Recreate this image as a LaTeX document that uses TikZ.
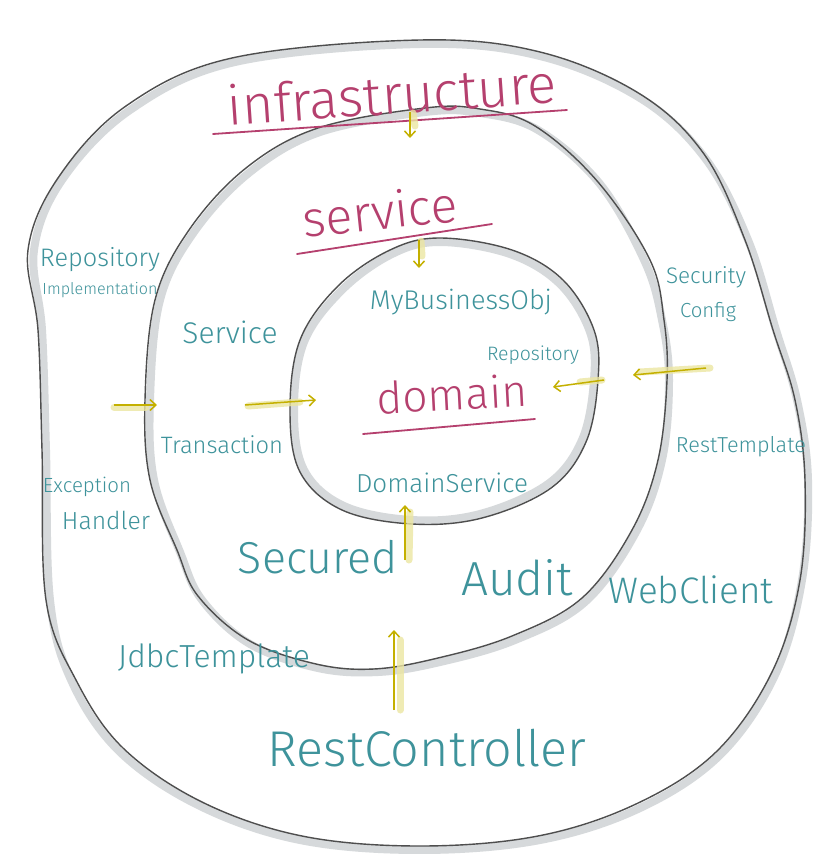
\documentclass[tikz,border=0pt]{standalone}
\usepackage{fontspec}
\newfontfamily\hand{Fira Sans Light}
\usetikzlibrary{arrows.meta}
\definecolor{penteal}{HTML}{3E939B}
\definecolor{penmag}{HTML}{B5406E}
\definecolor{halo}{HTML}{D6D9DB}
\definecolor{ink}{HTML}{4E4E4E}
\definecolor{arrowink}{HTML}{C4B000}
\definecolor{arrowhl}{HTML}{ECE6A2}
\newcommand{\hw}[2]{\resizebox{#1pt}{!}{\hand #2}}
\begin{document}
\begin{tikzpicture}[x=1pt,y=-1pt,
  haloline/.style={draw=halo,line width=8pt,line cap=round,line join=round},
  inkline/.style={draw=ink,line width=1.4pt,line join=round},
  lbl/.style={inner sep=0pt,text=penteal},
  ttl/.style={inner sep=0pt,text=penmag},
  uline/.style={draw=penmag,line width=1.8pt,line cap=round},
  hl/.style={draw=arrowhl,line width=7pt,line cap=round,opacity=0.8},
  arr/.style={draw=arrowink,line width=1.5pt,-{Straight Barb[length=6pt,width=11pt]}}]
\useasboundingbox (0,0) rectangle (818,854);
\fill[white] (0,0) rectangle (818,854);

% outer loop
\draw[haloline] plot[smooth cycle,tension=0.6] coordinates {
 (420,44) (540,56) (640,98) (705,158) (748,240) (776,330) (797,400) (808,480)
 (802,580) (775,675) (720,755) (640,808) (540,840) (420,850) (300,840) (200,806)
 (120,752) (72,682) (50,600) (46,450) (42,330) (34,250) (62,180) (130,110) (235,62)};
\draw[inkline] plot[smooth cycle,tension=0.6] coordinates {
 (420,40) (540,52) (640,94) (704,154) (745,240) (773,330) (795,400) (805,480)
 (800,580) (772,672) (716,752) (636,804) (538,836) (420,846) (302,836) (202,802)
 (123,748) (76,680) (46,600) (42,450) (38,330) (28,250) (58,178) (126,106) (232,58)};

% middle loop
\draw[haloline] plot[smooth cycle,tension=0.6] coordinates {
 (425,112) (480,113) (538,130) (600,184) (645,262) (662,320) (669,380) (662,460)
 (636,532) (585,602) (515,640) (440,662) (378,672) (318,668) (250,644) (202,600)
 (180,552) (154,480) (150,400) (160,300) (194,232) (250,172) (320,132)};
\draw[inkline] plot[smooth cycle,tension=0.6] coordinates {
 (425,108) (480,109) (535,126) (598,182) (650,260) (664,320) (667,380) (658,460)
 (632,530) (582,598) (512,636) (438,658) (374,669) (316,664) (248,640) (198,596)
 (177,550) (150,480) (145,400) (155,300) (189,230) (246,168) (318,128)};

% inner loop
\draw[haloline] plot[smooth cycle,tension=0.6] coordinates {
 (440,242) (510,254) (560,284) (590,332) (594,380) (582,440) (548,484) (480,514)
 (412,520) (344,506) (304,470) (294,410) (304,342) (342,290) (392,254)};
\draw[inkline] plot[smooth cycle,tension=0.6] coordinates {
 (440,238) (512,250) (563,280) (594,330) (598,380) (586,442) (551,488) (482,518)
 (412,524) (342,510) (300,472) (290,410) (300,340) (338,286) (390,250)};

% titles
\node[ttl,rotate=4] (infra) at (392,94) {\hw{330}{infrastructure}};
\draw[uline] (213,134) -- (567,110);
\node[ttl,rotate=6] (service) at (380,211) {\hw{155}{service}};
\draw[uline] (297,254) -- (492,224);
\node[ttl,rotate=3] (domain) at (452,394) {\hw{150}{domain}};
\draw[uline] (363,434) -- (535,419);

% labels
\node[lbl] (repoimpl) at (100,260) {\hw{120}{Repository}};
\node[lbl] (impl) at (100,290) {\hw{115}{Implementation}};
\node[lbl] (svc) at (230,332) {\hw{95}{Service}};
\node[lbl] (tx) at (222,445) {\hw{122}{Transaction}};
\node[lbl] (exc) at (87,487) {\hw{88}{Exception}};
\node[lbl] (hand) at (106,520) {\hw{88}{Handler}};
\node[lbl] (sec) at (318,557) {\hw{160}{Secured}};
\node[lbl] (jdbc) at (214,659) {\hw{192}{JdbcTemplate}};
\node[lbl] (rc) at (427,748) {\hw{318}{RestController}};
\node[lbl] (audit) at (517,578) {\hw{112}{Audit}};
\node[lbl] (web) at (691,590) {\hw{165}{WebClient}};
\node[lbl] (rt) at (741,447) {\hw{130}{RestTemplate}};
\node[lbl] (secu) at (706,277) {\hw{80}{Security}};
\node[lbl] (conf) at (708,312) {\hw{56}{Config}};
\node[lbl] (mbo) at (461,302) {\hw{182}{MyBusinessObj}};
\node[lbl] (repo) at (533,355) {\hw{92}{Repository}};
\node[lbl] (dsvc) at (442,483) {\hw{172}{DomainService}};

% arrows
\coordinate (a1s) at (410,112); \coordinate (a1e) at (410,138);
\coordinate (a2s) at (419,240); \coordinate (a2e) at (419,268);
\coordinate (a3s) at (114,405); \coordinate (a3e) at (157,405);
\coordinate (a4s) at (245,405); \coordinate (a4e) at (316,400);
\coordinate (a5s) at (706,368); \coordinate (a5e) at (633,375);
\coordinate (a6s) at (604,380); \coordinate (a6e) at (553,387);
\coordinate (a7s) at (394,710); \coordinate (a7e) at (394,630);
\coordinate (a8s) at (405,560); \coordinate (a8e) at (405,505);

\draw[hl] (413,113) -- (415,126);
\draw[hl] (421,241) -- (422,256);
\draw[hl] (114,407) -- (146,407);
\draw[hl] (248,406) -- (300,402);
\draw[hl] (710,368) -- (640,372);
\draw[hl] (602,380) -- (580,382);
\draw[hl] (400,710) -- (400,640);
\draw[hl] (409,560) -- (410,512);

\draw[arr] (a1s) -- (a1e);
\draw[arr] (a2s) -- (a2e);
\draw[arr] (a3s) -- (a3e);
\draw[arr] (a4s) -- (a4e);
\draw[arr] (a5s) -- (a5e);
\draw[arr] (a6s) -- (a6e);
\draw[arr] (a7s) -- (a7e);
\draw[arr] (a8s) -- (a8e);
\end{tikzpicture}
\end{document}
